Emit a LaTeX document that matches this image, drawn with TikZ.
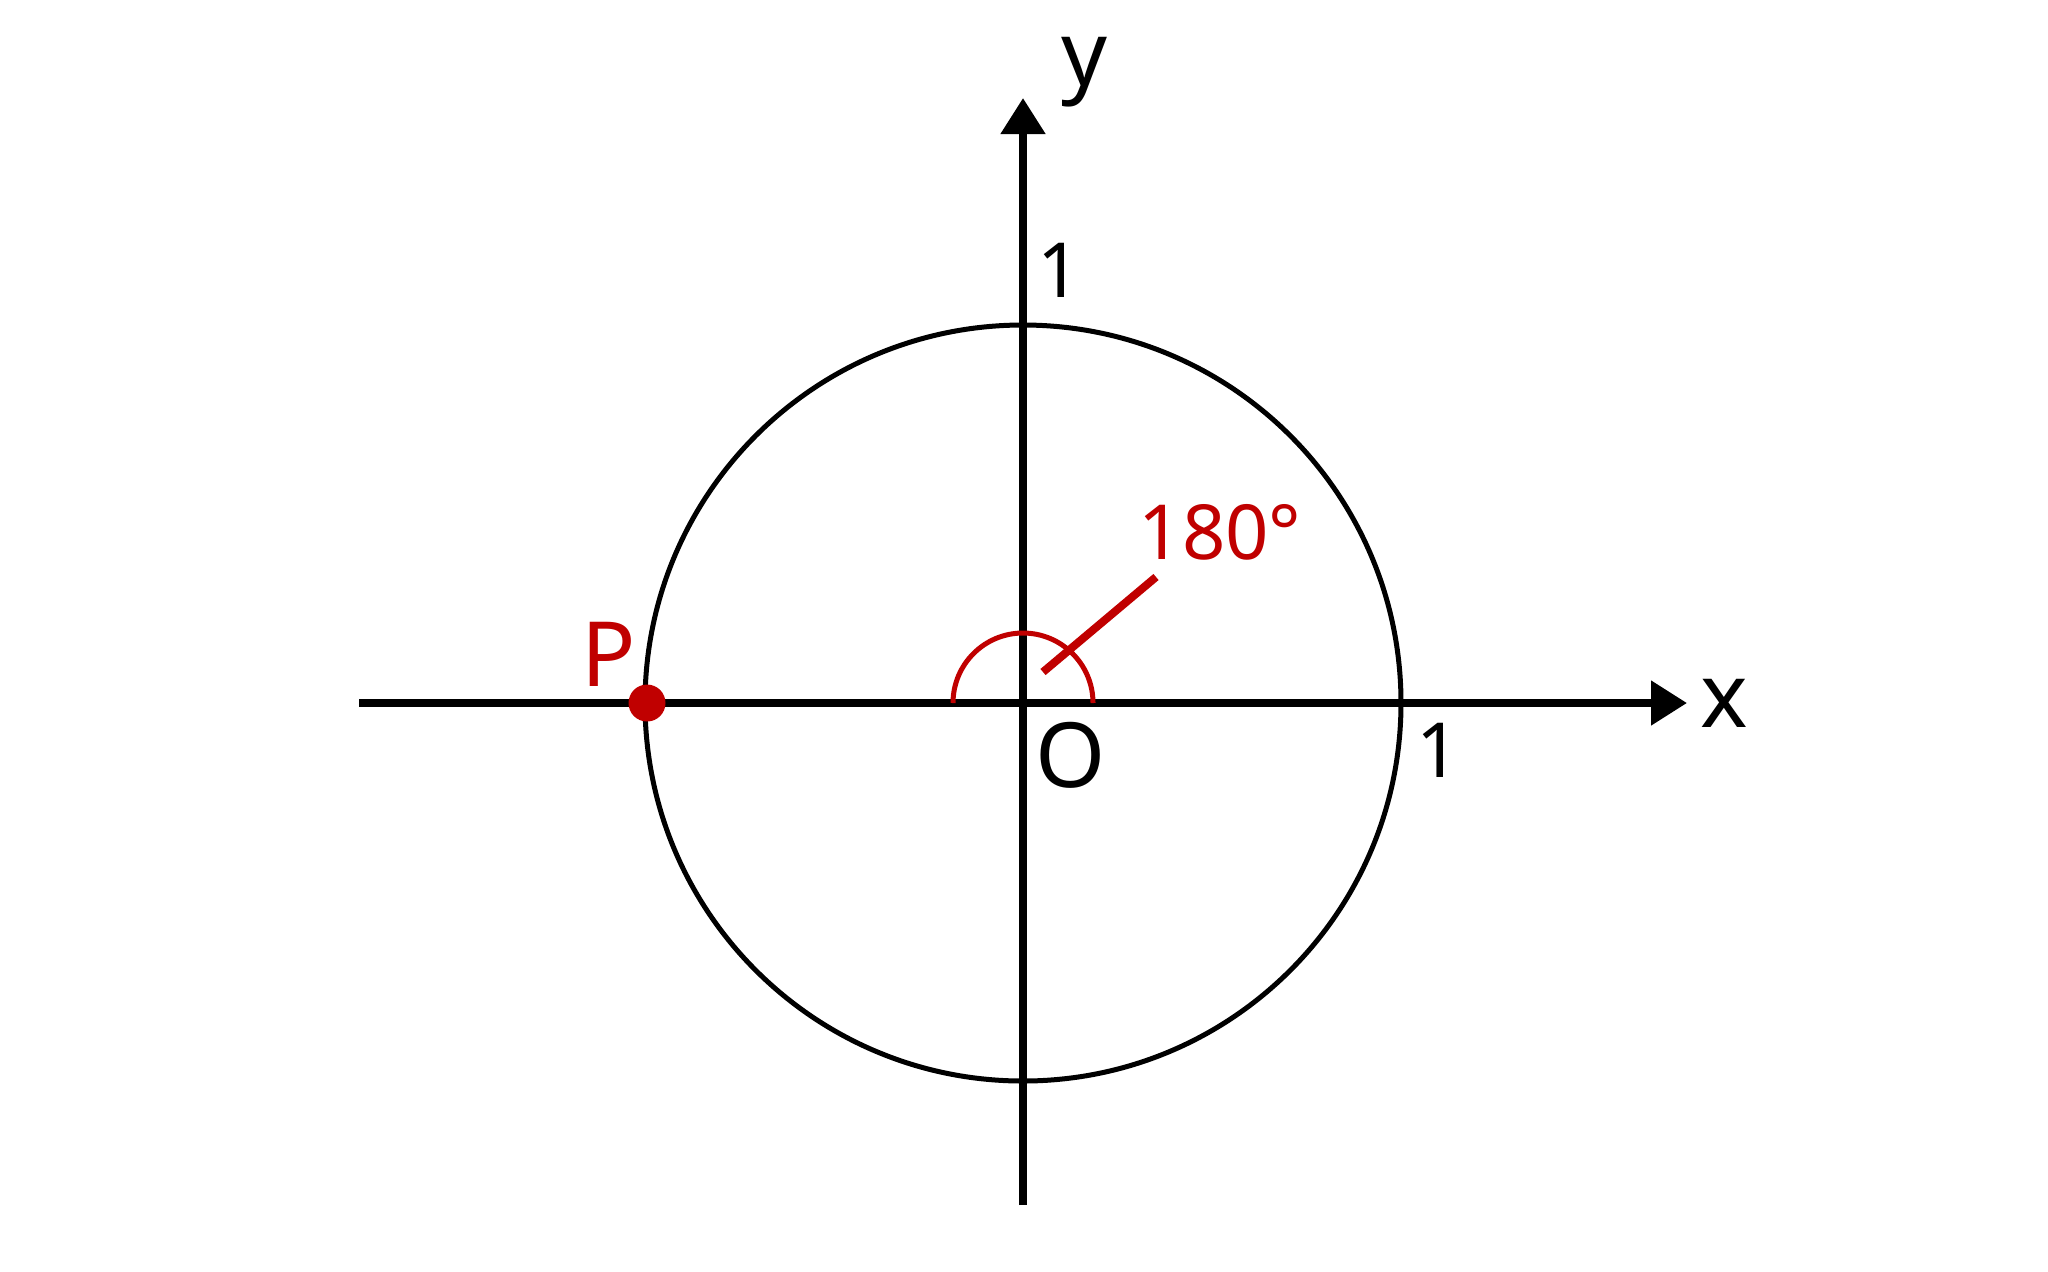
\documentclass[tikz,border=0pt]{standalone}
\usepackage{fontspec}
\setmainfont{Noto Sans}
\usetikzlibrary{arrows.meta}
\definecolor{myred}{HTML}{C00000}
\tikzset{
  axisline/.style={line width=4pt, -{Triangle[length=18pt,width=21.5pt]}},
  lbl/.style={inner sep=0pt, font=\fontsize{45}{50}\selectfont},
  numlbl/.style={inner sep=0pt, font=\fontsize{38}{44}\selectfont},
}
\begin{document}
\begin{tikzpicture}[x=0.5pt,y=-0.5pt]
\useasboundingbox (0,0) rectangle (2048,1271);
\coordinate (O) at (1023,703);
\coordinate (xs) at (359,703);
\coordinate (xe) at (1687,703);
\coordinate (ys) at (1023,1205);
\coordinate (ye) at (1023,98);
% circle
\draw[line width=2.5pt] (O) circle[radius=189pt];
% axes
\draw[axisline] (xs) -- (xe);
\draw[axisline] (ys) -- (ye);
% angle arc
\coordinate (arcstart) at (1093,703);
\draw[myred, line width=2.5pt] (arcstart) arc[start angle=0,end angle=180,radius=35pt];
% pointer line
\coordinate (pa) at (1043,672);
\coordinate (pb) at (1156,577);
\draw[myred, line width=4pt] (pa) -- (pb);
% point P
\coordinate (Pp) at (647,703);
\fill[myred] (Pp) circle[radius=9.25pt];
% labels
\node[lbl] (xl) at (1724,703) {x};
\node[lbl] (yl) at (1084,72) {y};
\node[lbl] (ol) at (1071,755) {O};
\node[lbl, text=myred] (pl) at (609,654) {P};
\node[numlbl] (one1) at (1059,270) {1};
\node[numlbl] (one2) at (1438,750) {1};
\node[numlbl, text=myred] (ang) at (1220,532) {180°};
\end{tikzpicture}
\end{document}
